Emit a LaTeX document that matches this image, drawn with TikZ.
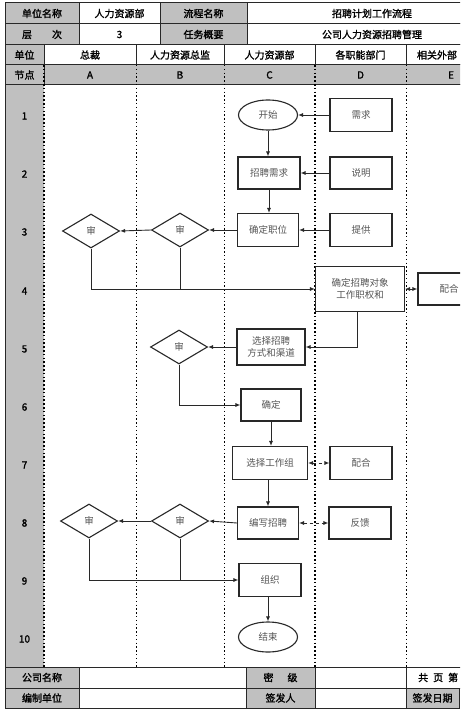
\documentclass[tikz,border=0pt]{standalone}
\usepackage{fontspec}
\newfontfamily\cjk{Noto Sans CJK SC}
\newfontfamily\cjkb[FakeBold=1.5]{Noto Sans CJK SC}
\usetikzlibrary{shapes.geometric,arrows.meta}
\definecolor{hgray}{RGB}{192,192,192}
\definecolor{lnc}{RGB}{40,40,40}
\definecolor{txg}{RGB}{85,85,85}
\begin{document}
\begin{tikzpicture}[x=1pt,y=-1pt,
  cell/.style={draw=lnc,line width=1pt,inner sep=0pt,font=\cjkb\fontsize{10}{12}\selectfont,text=black},
  gcell/.style={cell,fill=hgray},
  wcell/.style={cell,fill=white},
  lbl/.style={inner sep=0pt,font=\cjkb\fontsize{10}{12}\selectfont,text=black},
  box/.style={draw=lnc,line width=1.1pt,fill=white,inner sep=1pt,align=center,
    font=\cjk\fontsize{9.5}{12}\selectfont,text=txg},
  oval/.style={box,ellipse},
  dia/.style={box,diamond,minimum width=57pt,minimum height=34pt,inner sep=0pt},
  arr/.style={draw=lnc,line width=0.9pt,-{Latex[length=5pt,width=4pt]}},
  dbl/.style={draw=lnc,line width=0.9pt,{Latex[length=5pt,width=4pt]}-{Latex[length=5pt,width=4pt]}},
  ddbl/.style={dbl,dash pattern=on 3pt off 3pt},
  ln/.style={draw=lnc,line width=0.9pt},
  thickdot/.style={draw=black,line width=1.4pt,dash pattern=on 1.6pt off 2.2pt},
  thindot/.style={draw=black,line width=1pt,dash pattern=on 1.4pt off 2.4pt}
]
\useasboundingbox (0,0) rectangle (474,711);
\fill[white] (0,0) rectangle (474,711);
\begin{scope}
\clip (0,0) rectangle (460,711);
% header row 1
\node[gcell,minimum width=74pt,minimum height=21pt] (h11) at (42,13.5) {单位名称};
\node[wcell,minimum width=81pt,minimum height=21pt] (h12) at (119.5,13.5) {人力资源部};
\node[gcell,minimum width=87pt,minimum height=21pt] (h13) at (203.5,13.5) {流程名称};
\node[wcell,minimum width=250pt,minimum height=21pt] (h14) at (372,13.5) {招聘计划工作流程};
% header row 2
\node[gcell,minimum width=74pt,minimum height=21pt] (h21) at (42,34.5) {层\hspace{20pt}次};
\node[wcell,minimum width=81pt,minimum height=21pt] (h22) at (119.5,34.5) {3};
\node[gcell,minimum width=87pt,minimum height=21pt] (h23) at (203.5,34.5) {任务概要};
\node[wcell,minimum width=250pt,minimum height=21pt] (h24) at (372,34.5) {公司人力资源招聘管理};
% header row 3
\node[gcell,minimum width=39pt,minimum height=20pt] (h31) at (24.5,55) {单位};
\node[wcell,minimum width=92pt,minimum height=20pt] (h32) at (90,55) {总裁};
\node[wcell,minimum width=88pt,minimum height=20pt] (h33) at (180,55) {人力资源总监};
\node[wcell,minimum width=91pt,minimum height=20pt] (h34) at (269.5,55) {人力资源部};
\node[wcell,minimum width=91pt,minimum height=20pt] (h35) at (360.5,55) {各职能部门};
\node[wcell,minimum width=91pt,minimum height=20pt] (h36) at (451.5,55) {};
\node[lbl] (h36t) at (437,55) {相关外部};
% header row 4
\node[gcell,minimum width=39pt,minimum height=20pt] (h41) at (24.5,75) {节点};
\node[gcell,minimum width=453pt,minimum height=20pt] (h42) at (270.5,75) {};
\node[lbl] (lA) at (90,75) {A};
\node[lbl] (lB) at (180,75) {B};
\node[lbl] (lC) at (269.5,75) {C};
\node[lbl] (lD) at (360.5,75) {D};
\node[lbl] (lE) at (451,75) {E};
% body
\fill[hgray] (5,85) rectangle (44,667);
\draw[lnc,line width=1pt] (5,85) -- (5,667);
\draw[lnc,line width=1pt] (5,85) -- (500,85);
\foreach \r/\yy in {1/116,2/174,3/232,4/291,5/349,6/407,7/465,8/523,9/581,10/639}
  \node[lbl] (r\r) at (24.5,\yy) {\r};
\draw[thickdot] (44,65) -- (44,667);
\draw[thindot] (136,65) -- (136,667);
\draw[thindot] (224,65) -- (224,667);
\draw[thickdot] (315,65) -- (315,667);
\draw[thindot] (406,65) -- (406,667);
% footer
\node[gcell,minimum width=74pt,minimum height=21pt] (f11) at (42,677.5) {公司名称};
\node[wcell,minimum width=167pt,minimum height=21pt] (f12) at (162.5,677.5) {};
\node[gcell,minimum width=69pt,minimum height=21pt] (f13) at (280.5,677.5) {密\hspace{14pt}级};
\node[wcell,minimum width=91pt,minimum height=21pt] (f14) at (360.5,677.5) {};
\node[wcell,minimum width=91pt,minimum height=21pt] (f15) at (451.5,677.5) {};
\node[lbl,anchor=west] (f15t) at (418,677.5) {共\hspace{5pt}页\hspace{5pt}第};
\node[gcell,minimum width=74pt,minimum height=20pt] (f21) at (42,698) {编制单位};
\node[wcell,minimum width=167pt,minimum height=20pt] (f22) at (162.5,698) {};
\node[gcell,minimum width=69pt,minimum height=20pt] (f23) at (280.5,698) {签发人};
\node[wcell,minimum width=91pt,minimum height=20pt] (f24) at (360.5,698) {};
\node[gcell,minimum width=53pt,minimum height=20pt] (f25) at (432.5,698) {签发日期};
% flow nodes
\node[oval,minimum width=59pt,minimum height=30pt] (s1) at (268,115) {开始};
\node[box,minimum width=62pt,minimum height=33pt] (n1) at (361,115) {需求};
\node[box,minimum width=62pt,minimum height=32pt] (b2) at (269,173) {招聘需求};
\node[box,minimum width=62pt,minimum height=32pt] (n2) at (361,173) {说明};
\node[box,minimum width=61pt,minimum height=33pt] (b3) at (268,230) {确定职位};
\node[box,minimum width=62pt,minimum height=33pt] (n3) at (361,230) {提供};
\node[dia] (dB3) at (180,230) {审};
\node[dia] (dA3) at (91,231) {审};
\node[box,minimum width=89pt,minimum height=45pt] (b4) at (360,289) {确定招聘对象\\工作职权和};
\node[box,minimum width=62pt,minimum height=32pt] (e4) at (449,289) {配合};
\node[box,minimum width=68pt,minimum height=36pt] (b5) at (271,347) {选择招聘\\方式和渠道};
\node[dia] (dB5) at (179,347) {审};
\node[box,minimum width=60pt,minimum height=32pt] (b6) at (271,405) {确定};
\node[box,minimum width=75pt,minimum height=33pt] (b7) at (270,463) {选择工作组};
\node[box,minimum width=62pt,minimum height=33pt] (n7) at (361,463) {配合};
\node[box,minimum width=61pt,minimum height=32pt] (b8) at (268,523) {编写招聘};
\node[box,minimum width=62pt,minimum height=32pt] (n8) at (360,523) {反馈};
\node[dia] (dB8) at (180,521) {审};
\node[dia] (dA8) at (89,521) {审};
\node[box,minimum width=62pt,minimum height=33pt] (b9) at (270,580) {组织};
\node[oval,minimum width=59pt,minimum height=30pt] (s10) at (268,637) {结束};
% connectors
\draw[arr] (n1.west) -- (s1.east);
\draw[arr] (s1.south) -- (s1.south |- b2.north);
\draw[arr] (n2.west) -- (b2.east);
\draw[arr] (b2.south) -- (b2.south |- b3.north);
\draw[arr] (n3.west) -- (b3.east);
\draw[arr] (b3.west) -- (dB3.east);
\draw[arr] (dB3.west) -- (dA3.east);
\draw[arr] (dA3.south) |- (b4.west);
\draw[ln] (dB3.south) -- (dB3.south |- b4.west);
\draw[dbl] (b4.east) -- (e4.west);
\draw[arr] ([xshift=-3pt]b4.south) |- (b5.east);
\draw[arr] (b5.west) -- (dB5.east);
\draw[arr] (dB5.south) |- (b6.west);
\draw[arr] (b6.south) -- (b6.south |- b7.north);
\draw[ddbl] (b7.east) -- (n7.west);
\draw[arr] ([xshift=-2pt]b7.south) -- ([xshift=-2pt]b7.south |- b8.north);
\draw[ddbl] (b8.east) -- (n8.west);
\draw[arr] (b8.west) -- (dB8.east);
\draw[arr] (dB8.west) -- (dA8.east);
\draw[arr] (dA8.south) |- (b9.west);
\draw[ln] (dB8.south) -- (dB8.south |- b9.west);
\draw[arr] ([xshift=-2pt]b9.south) -- ([xshift=-2pt]b9.south |- s10.north);
\end{scope}
\end{tikzpicture}
\end{document}
